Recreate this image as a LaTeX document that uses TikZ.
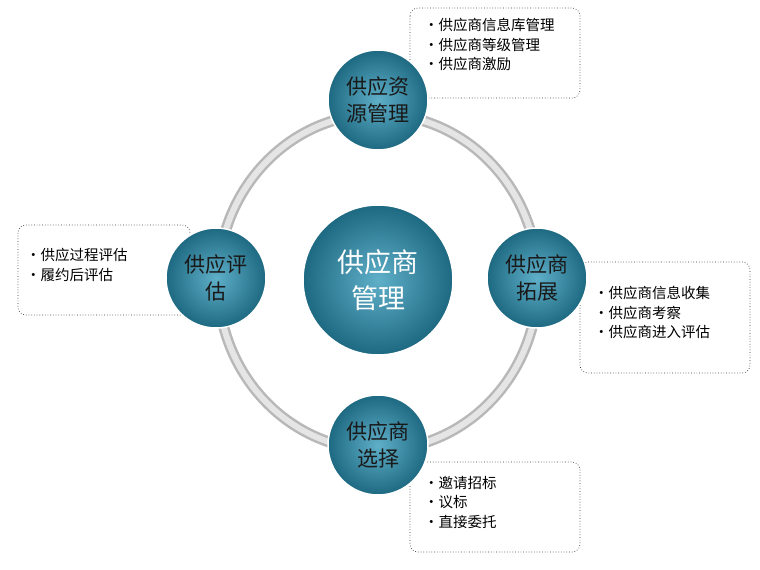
\documentclass[tikz,border=0pt]{standalone}
\usepackage{fontspec}
\setmainfont{Noto Sans CJK SC}
\definecolor{ballin}{RGB}{95,175,200}
\definecolor{ballout}{RGB}{30,105,130}
\begin{document}
\begin{tikzpicture}[x=1pt,y=-1pt,
  ballc/.style={circle,draw=white,line width=1.5pt,inner sep=0pt,align=center,
    inner color=ballin,outer color=ballout},
  small/.style={ballc,minimum size=100pt,font=\fontsize{21}{27}\selectfont,text=black!90},
  boxline/.style={black!80,dotted,line width=0.7pt,rounded corners=8pt},
  boxtext/.style={anchor=north west,align=left,font=\fontsize{14.5}{19.5}\selectfont,inner sep=0pt}]
\useasboundingbox (0,0) rectangle (760,570);
\draw[boxline] (410,8) rectangle (580,98);
\draw[boxline] (18,225) rectangle (190,315);
\draw[boxline] (580,262) rectangle (750,373);
\draw[boxline] (410,462) rectangle (580,552);
\draw[line width=11pt,black!28] (378,282) ellipse (160 and 168);
\draw[line width=6pt,black!10] (378,282) ellipse (160 and 168);
\node[ballc,minimum size=150pt,font=\fontsize{27}{36}\selectfont,text=white] (c) at (378,280) {供应商\\管理};
\node[small] (t) at (378,100) {供应资\\源管理};
\node[small] (r) at (537,278) {供应商\\拓展};
\node[small] (b) at (378,445) {供应商\\选择};
\node[small] (l) at (216,278) {供应评\\估};
\node[boxtext] (tb) at (424,18) {•供应商信息库管理\\•供应商等级管理\\•供应商激励};
\node[boxtext] (lb) at (26,248) {•供应过程评估\\•履约后评估};
\node[boxtext] (rb) at (594,286) {•供应商信息收集\\•供应商考察\\•供应商进入评估};
\node[boxtext] (bb) at (424,476) {•邀请招标\\•议标\\•直接委托};
\end{tikzpicture}
\end{document}
